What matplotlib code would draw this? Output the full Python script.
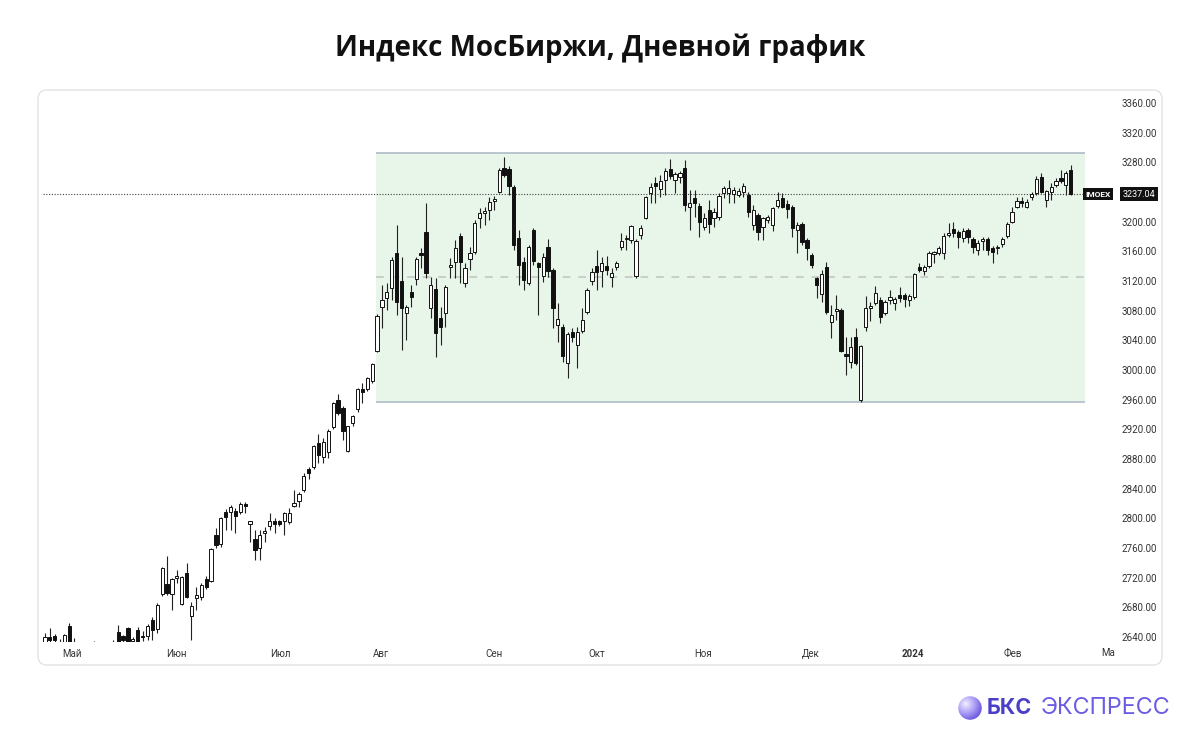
import numpy as np
import matplotlib
matplotlib.use("Agg")
import matplotlib.pyplot as plt
from matplotlib.patches import Rectangle, FancyBboxPatch, Circle
import matplotlib.transforms as mtransforms

# --- data: daily IMOEX candles (index = trading day from late April 2023) ---
opens = [2628, 2640, 2642, 2630, 2620, 2655, 2628, 2605, 2615, 2608, 2620, 2612, 2603, 2615, 2625,
         2647, 2641, 2652, 2634, 2649, 2640, 2642, 2663, 2651, 2698, 2712, 2698, 2719, 2685, 2726,
         2668, 2692, 2694, 2718, 2716, 2778, 2765, 2809, 2809, 2810, 2809, 2819, 2792, 2772, 2760,
         2780, 2790, 2796, 2796, 2797, 2795, 2817, 2824, 2838, 2866, 2869, 2902, 2883, 2889, 2923,
         2960, 2949, 2891, 2929, 2947, 2974, 2974, 2985, 3026, 3085, 3097, 3111, 3158, 3120, 3077,
         3105, 3123, 3158, 3186, 3084, 3109, 3070, 3077, 3139, 3146, 3181, 3117, 3150, 3159, 3205,
         3212, 3216, 3228, 3240, 3272, 3271, 3247, 3178, 3146, 3117, 3189, 3144, 3127, 3166, 3135,
         3061, 3058, 3010, 3051, 3034, 3053, 3078, 3120, 3140, 3133, 3140, 3125, 3139, 3166, 3176,
         3175, 3127, 3182, 3205, 3239, 3252, 3244, 3256, 3271, 3256, 3260, 3272, 3220, 3232, 3221,
         3193, 3216, 3205, 3206, 3239, 3239, 3237, 3236, 3240, 3236, 3196, 3209, 3193, 3202, 3196,
         3221, 3232, 3224, 3220, 3189, 3197, 3175, 3155, 3124, 3102, 3139, 3065, 3080, 3081, 3021,
         3011, 3044, 2960, 3058, 3084, 3090, 3094, 3077, 3094, 3090, 3101, 3101, 3094, 3098, 3139,
         3134, 3140, 3157, 3158, 3158, 3182, 3190, 3186, 3178, 3189, 3177, 3162, 3174, 3177, 3165,
         3164, 3170, 3181, 3200, 3220, 3228, 3220, 3233, 3239, 3260, 3229, 3240, 3250, 3259, 3250,
         3270]
highs = [2646, 2652, 2644, 2638, 2644, 2659, 2639, 2622, 2630, 2625, 2635, 2628, 2620, 2632, 2636,
         2656, 2643, 2654, 2640, 2654, 2648, 2658, 2667, 2686, 2735, 2749, 2720, 2730, 2722, 2740,
         2687, 2708, 2713, 2722, 2760, 2787, 2802, 2813, 2818, 2814, 2822, 2822, 2797, 2784, 2784,
         2788, 2807, 2800, 2798, 2809, 2814, 2838, 2836, 2861, 2869, 2899, 2914, 2908, 2920, 2957,
         2968, 2951, 2925, 2940, 2976, 2982, 2991, 3010, 3075, 3115, 3117, 3152, 3196, 3152, 3088,
         3115, 3153, 3165, 3225, 3125, 3124, 3085, 3114, 3151, 3175, 3185, 3144, 3166, 3202, 3218,
         3220, 3233, 3234, 3272, 3287, 3275, 3250, 3189, 3152, 3168, 3191, 3146, 3158, 3177, 3137,
         3090, 3062, 3051, 3057, 3058, 3084, 3110, 3137, 3162, 3152, 3154, 3137, 3147, 3185, 3182,
         3196, 3176, 3196, 3235, 3252, 3260, 3263, 3272, 3284, 3267, 3268, 3283, 3243, 3243, 3225,
         3212, 3229, 3218, 3239, 3248, 3256, 3247, 3245, 3252, 3240, 3222, 3212, 3206, 3209, 3220,
         3240, 3239, 3229, 3222, 3199, 3200, 3178, 3158, 3126, 3135, 3146, 3088, 3101, 3083, 3045,
         3045, 3057, 3034, 3100, 3092, 3113, 3098, 3095, 3108, 3099, 3112, 3104, 3102, 3131, 3144,
         3142, 3160, 3160, 3167, 3185, 3198, 3199, 3189, 3191, 3191, 3179, 3175, 3179, 3179, 3167,
         3168, 3179, 3200, 3220, 3233, 3233, 3231, 3240, 3261, 3266, 3243, 3252, 3259, 3270, 3268,
         3276]
lows = [2615, 2620, 2625, 2610, 2612, 2625, 2600, 2592, 2600, 2595, 2605, 2598, 2590, 2605, 2610,
        2625, 2628, 2628, 2625, 2628, 2634, 2636, 2636, 2646, 2695, 2696, 2676, 2713, 2683, 2692,
        2636, 2676, 2690, 2705, 2714, 2760, 2762, 2784, 2784, 2780, 2806, 2807, 2768, 2744, 2744,
        2768, 2784, 2780, 2790, 2778, 2793, 2815, 2815, 2836, 2853, 2867, 2875, 2875, 2881, 2921,
        2940, 2905, 2889, 2925, 2944, 2955, 2972, 2983, 3024, 3057, 3081, 3094, 3074, 3027, 3040,
        3085, 3115, 3138, 3124, 3070, 3018, 3034, 3058, 3124, 3124, 3117, 3112, 3135, 3157, 3191,
        3196, 3202, 3216, 3238, 3260, 3236, 3162, 3115, 3108, 3115, 3142, 3074, 3119, 3125, 3057,
        3038, 3011, 2989, 3038, 3003, 3050, 3076, 3115, 3108, 3112, 3128, 3112, 3135, 3162, 3162,
        3171, 3124, 3177, 3203, 3225, 3225, 3233, 3236, 3258, 3239, 3252, 3215, 3189, 3206, 3179,
        3189, 3185, 3193, 3202, 3232, 3225, 3225, 3233, 3233, 3206, 3189, 3175, 3175, 3198, 3188,
        3219, 3218, 3205, 3179, 3158, 3168, 3148, 3138, 3097, 3092, 3076, 3043, 3067, 3024, 2993,
        3003, 3007, 2957, 3052, 3066, 3087, 3064, 3074, 3089, 3081, 3092, 3085, 3086, 3096, 3132,
        3128, 3138, 3144, 3155, 3150, 3180, 3179, 3165, 3172, 3171, 3158, 3155, 3162, 3155, 3144,
        3157, 3166, 3178, 3198, 3218, 3220, 3218, 3229, 3236, 3238, 3220, 3229, 3247, 3252, 3236,
        3236]
closes = [2640, 2636, 2636, 2625, 2643, 2630, 2605, 2615, 2608, 2620, 2612, 2603, 2615, 2625, 2630,
          2630, 2636, 2632, 2638, 2632, 2642, 2655, 2649, 2683, 2733, 2699, 2718, 2722, 2721, 2694,
          2682, 2696, 2710, 2707, 2759, 2764, 2800, 2802, 2815, 2803, 2819, 2816, 2796, 2757, 2778,
          2783, 2796, 2793, 2792, 2807, 2807, 2821, 2833, 2857, 2861, 2898, 2886, 2903, 2918, 2956,
          2942, 2918, 2924, 2938, 2974, 2970, 2989, 3008, 3073, 3094, 3105, 3148, 3092, 3084, 3085,
          3098, 3150, 3155, 3131, 3115, 3050, 3058, 3112, 3141, 3164, 3146, 3138, 3158, 3198, 3212,
          3214, 3227, 3230, 3270, 3263, 3248, 3169, 3142, 3121, 3166, 3147, 3139, 3152, 3134, 3084,
          3069, 3019, 3049, 3045, 3051, 3068, 3108, 3132, 3132, 3144, 3135, 3131, 3144, 3174, 3178,
          3194, 3174, 3191, 3233, 3247, 3248, 3255, 3268, 3262, 3264, 3266, 3223, 3225, 3225, 3200,
          3205, 3197, 3213, 3235, 3245, 3245, 3243, 3241, 3248, 3213, 3216, 3186, 3205, 3206, 3218,
          3229, 3220, 3217, 3191, 3195, 3173, 3164, 3142, 3115, 3129, 3078, 3074, 3082, 3026, 3019,
          3031, 3009, 3032, 3083, 3086, 3104, 3072, 3092, 3098, 3096, 3097, 3096, 3100, 3129, 3135,
          3139, 3158, 3159, 3165, 3181, 3185, 3185, 3179, 3187, 3179, 3166, 3171, 3176, 3162, 3159,
          3166, 3177, 3197, 3213, 3228, 3225, 3227, 3237, 3258, 3240, 3241, 3247, 3255, 3255, 3266,
          3237.04]

month_labels = ["Май", "Июн", "Июл", "Авг", "Сен", "Окт", "Ноя", "Дек", "2024", "Фев", "Ма"]
month_pos = [5.5, 27.0, 48.1, 68.8, 91.9, 113.0, 134.7, 156.8, 177.7, 198.2, 217.6]

price_ticks = np.arange(2640, 3361, 40)
box_top, box_bottom = 3292.6, 2957.0
box_start, box_end = 67.8, 212.9
last_price = closes[-1]

# --- figure ---
W, H = 1200, 734
fig = plt.figure(figsize=(W / 100, H / 100), dpi=100)
fig.patch.set_facecolor("white")

def px(x0, y0, w, h):
    return [x0 / W, 1 - (y0 + h) / H, w / W, h / H]

# panel border (behind everything)
panel = FancyBboxPatch((38, H - 665), 1124, 575, boxstyle="round,pad=0,rounding_size=9",
                       transform=mtransforms.IdentityTransform(), facecolor="none",
                       edgecolor="#e3e3e3", linewidth=1.0, zorder=-10)
fig.patches.append(panel)

fig.text(0.5, 1 - 48 / H, "Индекс МосБиржи, Дневной график", ha="center", va="center",
         fontsize=20, fontweight="bold", family="Open Sans", color="#111111")

ax = fig.add_axes(px(43, 95, 1047, 547))
ax.set_facecolor("none")
for s in ax.spines.values():
    s.set_visible(False)

x = np.arange(len(closes))
o = np.array(opens, float)
c = np.array(closes, float)
hi = np.array(highs, float)
lo = np.array(lows, float)

# range box
ax.add_patch(Rectangle((box_start, box_bottom), box_end - box_start, box_top - box_bottom,
                       facecolor="#e8f5e9", edgecolor="none", zorder=0))
ax.hlines([box_top, box_bottom], box_start, box_end, color="#b3c0cb", lw=1.3, zorder=1)
ax.hlines((box_top + box_bottom) / 2, box_start, box_end, color="#c9cdc9", lw=1.4,
          linestyles=(0, (4, 4)), zorder=1)

# last price line
ax.axhline(last_price, color="#444444", lw=0.8, ls=(0, (1, 1.5)), zorder=1)

# candles
ax.vlines(x, lo, hi, color="#222222", lw=0.8, zorder=2)
up = c >= o
body_lo = np.minimum(o, c)
body_h = np.maximum(np.abs(c - o), 0.8)
ax.bar(x[up], body_h[up], bottom=body_lo[up], width=0.66, color="white",
       edgecolor="#111111", linewidth=0.7, zorder=3)
ax.bar(x[~up], body_h[~up], bottom=body_lo[~up], width=0.66, color="#111111",
       edgecolor="#111111", linewidth=0.7, zorder=3)

ax.set_xlim(-0.4, 213.96)
ax.set_ylim(2633.3, 3370.8)

ax.yaxis.tick_right()
ax.set_yticks(price_ticks)
ax.set_yticklabels([f"{v:.2f}" for v in price_ticks], fontsize=7, family="Roboto", color="#333333")
ax.tick_params(axis="y", length=0, pad=23)

ax.set_xticks(month_pos[:-1])
ax.set_xticklabels(month_labels[:-1], fontsize=7, family="Roboto", color="#333333")
ax.tick_params(axis="x", length=0, pad=5)
for lab in ax.get_xticklabels():
    if lab.get_text() == "2024":
        lab.set_fontweight("bold")
ax.text(month_pos[-1], -10.5 / 547, month_labels[-1], transform=ax.get_xaxis_transform(),
        ha="center", va="center", fontsize=7, family="Roboto", color="#333333", clip_on=False)

# last price labels
tr = mtransforms.blended_transform_factory(fig.transFigure, ax.transData)
fig.text(1098 / W, last_price, "IMOEX", transform=tr, ha="center", va="center", fontsize=6,
         family="Roboto", fontweight="bold", color="white",
         bbox=dict(boxstyle="square,pad=0.3", facecolor="#111111", edgecolor="none"))
fig.text(1139 / W, last_price, f"{last_price:.2f}", transform=tr, ha="center", va="center",
         fontsize=6.5, family="Roboto", color="white",
         bbox=dict(boxstyle="square,pad=0.3", facecolor="#111111", edgecolor="none"))

# logo
lax = fig.add_axes(px(958, 696, 24, 24))
yy, xx = np.mgrid[-1:1:100j, -1:1:100j]
r = np.sqrt((xx + 0.35) ** 2 + (yy - 0.35) ** 2)
grad = np.clip(r / 1.6, 0, 1)
cmap = matplotlib.colors.LinearSegmentedColormap.from_list("logo", ["#f1eeff", "#a99bf5", "#5a47d6"])
im = lax.imshow(grad, cmap=cmap, extent=(-1, 1, -1, 1), origin="lower")
clip = Circle((0, 0), 0.98, transform=lax.transData)
im.set_clip_path(clip)
lax.set_xlim(-1, 1)
lax.set_ylim(-1, 1)
lax.axis("off")

fig.text(987 / W, 1 - 708 / H, "БКС", ha="left", va="center", fontsize=15.5, fontweight="bold",
         family="Inter", color="#4b3fc8")
fig.text(1041 / W, 1 - 708 / H, "ЭКСПРЕСС", ha="left", va="center", fontsize=16.8,
         family="Inter", color="#6a5de3")

fig.savefig("out.png", dpi=100, facecolor="white")
